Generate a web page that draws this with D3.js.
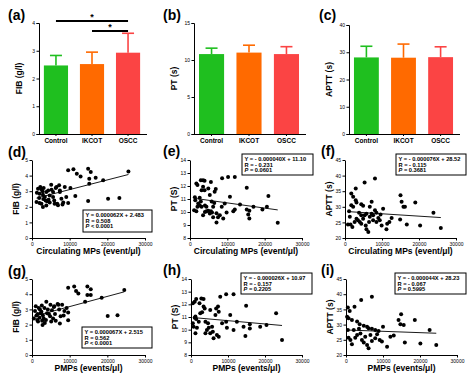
<!DOCTYPE html>
<html><head><meta charset="utf-8">
<script src="https://cdn.jsdelivr.net/npm/d3@7"></script>
<style>
html,body{margin:0;padding:0;background:#fff;}
svg{display:block;font-family:"Liberation Sans",Arial,sans-serif;}
</style></head>
<body><svg id="c" width="474" height="383"></svg>
<script>
// ---------- DATA ----------
const groups = ["Control", "IKCOT", "OSCC"];
const groupColors = ["#1fbf1f", "#ff6a00", "#fb4444"];
const fibMean = [2.47, 2.52, 2.93];
const fibErr = [0.36, 0.43, 0.70];
const ptMean = [10.8, 11.0, 10.8];
const ptErr = [0.8, 1.0, 1.0];
const apttMean = [28.1, 28.0, 28.2];
const apttErr = [4.1, 5.0, 3.8];

const fibTicks = [0, 1, 2, 3, 4];
const ptBarTicks = [0, 5, 10, 15];
const apttBarTicks = [0, 10, 20, 30, 40];
const xTicks = [0, 10000, 20000, 30000];
const fibScTicks = [0, 1, 2, 3, 4, 5];
const ptScTicks = [8, 9, 10, 11, 12, 13, 14];
const apttScTicks = [20, 25, 30, 35, 40, 45];

// Circulating MPs vs FIB
const mpFib = [[9600,4.34],[11000,4.4],[11900,4.12],[12900,3.95],[14900,4.44],[15600,4.23],[15200,3.8],[16900,3.87],[18900,3.7],[15200,3.48],[25600,4.27],[20200,2.52],[23200,2.56],[14900,2.37],[11500,2.69],[9600,2.24],
[1300,2.9],[1900,2.56],[2000,2.24],[2500,3.12],[2800,3.0],[2900,2.78],[3100,3.2],[3400,2.63],[3600,2.41],[2900,1.99],[3800,2.09],[4300,3.05],[4700,2.73],[5100,3.42],[5600,2.95],[5900,2.41],[6300,3.2],[6700,2.2],[7200,3.38],[7400,2.95],[7800,2.52],[8100,2.14],[8700,3.27],[9100,2.63],[10200,3.2],[6900,2.1],[4700,2.27],[2500,2.2],[1200,2.3],[1600,3.16],[2200,3.27],[3800,2.95],[5600,2.63],[6500,3.27],[7400,3.05],[4000,2.35],[6000,2.2],[8300,2.27],[2000,2.84],[3000,2.5],[5200,3.1],[4400,2.45]];
const mpFibFit = {slope: 0.000062, icpt: 2.483, eq: "Y = 0.000062X + 2.483", r: "R = 0.508", p: "< 0.0001"};

// Circulating MPs vs PT
const mpPt = [[1700,12.2],[2000,12.07],[2900,12.45],[3500,12.45],[3900,12.4],[5600,12.3],[8600,12.6],[10200,12.7],[12000,12.7],[15200,11.86],[21000,11.24],[23500,9.18],[15200,10.2],[15900,10.1],[15600,9.8],[15900,9.5],[17000,10.4],[19400,10.2],[20600,10.4],[10700,11.17],[11600,10.06],[12000,10.2],[13400,10.57],[9300,10.65],[8900,9.5],[8000,9.75],[7500,9.6],[7100,9.2],[7100,9.9],[6200,10.4],[6500,10.7],[6600,11.55],[6900,11.76],[5300,11.3],[5800,10.8],[4900,10.1],[4400,10.05],[4000,10.0],[3500,9.75],[3100,10.4],[2900,10.8],[2600,11.1],[2200,10.65],[2000,10.4],[1700,10.06],[1400,10.9],[1300,11.14],[1100,10.14],[3100,11.68],[3500,11.94],[3900,11.68],[4900,11.8],[4000,10.5],[5300,9.88],[5900,9.96],[4400,10.4],[2600,10.5],[8500,10.4],[9800,9.96],[5600,10.06],[6200,9.6]];
const mpPtFit = {slope: -0.000040, icpt: 11.10, eq: "Y = - 0.000040X + 11.10", r: "R = - 0.231", p: "= 0.0601"};

// Circulating MPs vs APTT
const mpAptt = [[1700,34.3],[2200,33.2],[2900,35.9],[5300,37.8],[8100,39.1],[1700,30.5],[2200,30.0],[2900,32.1],[3100,31.4],[4400,30.8],[4900,30.3],[6700,30.0],[7200,31.6],[8100,28.9],[8500,28.1],[10300,29.4],[1100,28.6],[1300,26.8],[1500,24.3],[800,24.3],[2000,23.5],[2600,25.1],[3100,26.2],[3500,25.7],[4000,25.1],[4400,24.6],[4900,26.2],[5300,27.3],[5600,24.0],[5800,22.8],[6300,21.9],[6500,25.1],[6700,26.8],[7200,27.8],[7600,25.7],[8500,25.1],[9000,26.4],[9600,27.5],[9900,24.0],[11200,22.8],[11400,24.6],[12000,25.1],[12600,26.4],[15000,33.7],[15300,31.6],[15800,30.0],[16200,30.0],[16700,24.3],[19000,31.4],[20300,24.0],[23900,28.1],[25900,23.2],[14900,25.9],[3800,28.1],[4400,27.3],[5800,27.8],[7600,27.3],[9400,25.7]];
const mpApttFit = {slope: -0.000076, icpt: 28.52, eq: "Y = - 0.000076X + 28.52", r: "R = - 0.115", p: "= 0.3681"};

// PMPs vs FIB
const pmpFib = [[9600,4.43],[11200,4.5],[11700,4.21],[12300,4.04],[14700,4.5],[15600,4.32],[14700,3.95],[15600,3.95],[18500,3.77],[14100,3.51],[24500,4.28],[20100,2.57],[22700,2.61],[9600,2.79],[9600,2.28],[7400,2.08],[2800,1.97],
[800,2.9],[1200,2.6],[1400,2.3],[1800,3.1],[2100,3.0],[2300,2.75],[2600,3.25],[2900,2.6],[3100,2.4],[3400,2.1],[3800,3.5],[4200,3.0],[4500,2.7],[4900,3.3],[5300,2.95],[5600,2.4],[5900,3.2],[6300,2.25],[6800,3.35],[7200,3.0],[7600,2.55],[8000,3.3],[8600,2.9],[9200,3.1],[500,2.4],[1000,3.2],[1600,2.2],[2000,2.45],[2500,2.85],[3300,3.1],[3700,2.3],[4800,2.55],[5100,2.2],[6100,2.7],[7000,3.3],[8400,2.6],[1500,2.7],[2700,2.25],[4000,2.75],[5800,3.15]];
const pmpFibFit = {slope: 0.000067, icpt: 2.515, eq: "Y = 0.000067X + 2.515", r: "R = 0.562", p: "< 0.0001"};

// PMPs vs PT
const pmpPt = [[500,12.08],[1000,12.2],[1400,12.42],[2800,12.47],[3400,12.42],[3700,11.68],[3400,11.82],[2300,12.08],[7900,12.6],[9500,12.79],[11500,12.79],[14900,11.89],[23000,11.29],[24600,9.18],[1200,11.03],[1400,10.84],[500,10.5],[700,10.24],[1200,9.71],[1600,10.16],[2100,10.63],[2500,11.29],[3000,11.37],[3900,10.63],[3900,9.71],[4300,9.97],[4800,10.16],[5200,9.71],[5700,10.24],[5900,9.84],[6100,9.32],[6600,11.16],[6800,11.68],[7300,11.82],[7500,11.42],[7000,9.58],[7500,9.45],[8400,10.5],[9500,10.63],[9700,10.16],[10600,11.16],[11500,9.97],[12400,10.63],[14200,10.24],[14700,9.5],[15900,10.42],[15900,10.1],[18700,10.24],[20400,10.37],[5200,11.55],[4600,10.5],[1000,10.95]];
const pmpPtFit = {slope: -0.000026, icpt: 10.97, eq: "Y = - 0.000026X + 10.97", r: "R = - 0.157", p: "= 0.2205"};

// PMPs vs APTT
const pmpAptt = [[500,35.6],[1000,34.5],[2300,35.9],[4100,38.1],[7000,39.2],[300,32.6],[700,32.1],[1600,31.5],[3000,31.0],[3700,30.1],[4800,29.6],[5700,29.3],[6100,28.8],[7000,28.6],[7900,28.2],[8800,27.9],[10000,29.3],[500,28.2],[700,25.7],[1200,24.9],[1600,23.5],[2500,25.7],[3000,26.6],[3900,27.1],[4300,24.9],[4800,24.1],[5200,26.0],[5700,23.3],[6100,22.2],[7000,24.6],[7900,25.5],[8400,26.8],[9100,24.9],[9700,24.4],[11100,22.7],[12000,26.0],[12900,26.4],[14200,31.5],[14900,33.4],[14700,30.1],[15600,29.9],[15900,24.1],[18600,31.5],[20100,23.8],[22600,28.2],[24400,23.3],[2100,28.2],[3500,28.6],[6600,26.6]];
const pmpApttFit = {slope: -0.000044, icpt: 28.23, eq: "Y = - 0.000044X + 28.23", r: "R = - 0.067", p: "= 0.5995"};

// ---------- DRAW ----------
const svg = d3.select("#c");
const FONT_TICK = 5;

function panelLabel(x, y, t) {
  svg.append("text").attr("x", x).attr("y", y).attr("font-size", 14).attr("font-weight", "bold").text(t);
}
function yLabel(x, yc, t) {
  svg.append("text").attr("transform", `translate(${x},${yc}) rotate(-90)`).attr("text-anchor", "middle")
    .attr("font-size", 8.5).attr("font-weight", "bold").text(t);
}
function styleAxis(g) {
  g.selectAll("path,line").attr("stroke", "#000").attr("stroke-width", 1);
  g.selectAll("text").attr("font-size", FONT_TICK).attr("font-family", "Liberation Sans, Arial, sans-serif").attr("fill", "#000");
}

function barPanel(o) {
  const y = d3.scaleLinear().domain([0, o.ticks[o.ticks.length - 1]]).range([o.bottom, o.top]);
  const x = d3.scaleBand().domain(groups).range([o.left + 2, o.right]).paddingInner(0.33).paddingOuter(0.08);
  const ya = svg.append("g").attr("transform", `translate(${o.left},0)`)
    .call(d3.axisLeft(y).tickValues(o.ticks).tickSize(2.5).tickPadding(1.5).tickFormat(d3.format("d")));
  styleAxis(ya);
  const xa = svg.append("g").attr("transform", `translate(0,${o.bottom})`)
    .call(d3.axisBottom(x).tickSize(2).tickPadding(2.5).tickSizeOuter(0));
  xa.select(".domain").attr("d", `M${o.left},0.5H${o.right + 4}`);
  styleAxis(xa);
  xa.selectAll("text").attr("font-size", 6.5).attr("font-weight", "bold");
  groups.forEach((gname, i) => {
    const c = groupColors[i];
    const xc = x(gname) + x.bandwidth() / 2;
    svg.append("line").attr("x1", xc).attr("x2", xc).attr("y1", y(o.mean[i])).attr("y2", y(o.mean[i] + o.err[i]))
      .attr("stroke", c).attr("stroke-width", 1.6);
    svg.append("line").attr("x1", xc - 6).attr("x2", xc + 6).attr("y1", y(o.mean[i] + o.err[i])).attr("y2", y(o.mean[i] + o.err[i]))
      .attr("stroke", c).attr("stroke-width", 1.6);
    svg.append("rect").attr("x", x(gname)).attr("width", x.bandwidth())
      .attr("y", y(o.mean[i])).attr("height", o.bottom - y(o.mean[i])).attr("fill", c);
  });
  yLabel(o.left - 17, (o.top + o.bottom) / 2, o.ylab);
  return {x, y};
}

function scatterPanel(o) {
  const x = d3.scaleLinear().domain([0, 30000]).range([o.left, o.right]);
  const y = d3.scaleLinear().domain([o.ticks[0], o.ticks[o.ticks.length - 1]]).range([o.bottom, o.top]);
  const ya = svg.append("g").attr("transform", `translate(${o.left},0)`)
    .call(d3.axisLeft(y).tickValues(o.ticks).tickSize(2.5).tickPadding(1.5).tickSizeOuter(0).tickFormat(d3.format("d")));
  styleAxis(ya);
  const xa = svg.append("g").attr("transform", `translate(0,${o.bottom})`)
    .call(d3.axisBottom(x).tickValues(xTicks).tickSize(2.5).tickPadding(1.5).tickSizeOuter(0).tickFormat(d3.format("d")));
  styleAxis(xa);
  svg.append("g").selectAll("circle").data(o.data).join("circle")
    .attr("cx", d => x(d[0])).attr("cy", d => y(d[1])).attr("r", 2).attr("fill", "#000");
  const xs = d3.extent(o.data, d => d[0]);
  svg.append("line").attr("x1", x(xs[0])).attr("x2", x(xs[1]))
    .attr("y1", y(o.fit.icpt + o.fit.slope * xs[0])).attr("y2", y(o.fit.icpt + o.fit.slope * xs[1]))
    .attr("stroke", "#000").attr("stroke-width", 0.9);
  const b = o.box;
  svg.append("rect").attr("x", b[0]).attr("y", b[1]).attr("width", b[2]).attr("height", b[3])
    .attr("fill", "#fff").attr("stroke", "#000").attr("stroke-width", 1);
  const t = svg.append("text").attr("x", b[0] + 2.5).attr("y", b[1] + 7).attr("font-size", 5.7).attr("font-weight", "bold");
  t.append("tspan").attr("x", b[0] + 2.5).text(o.fit.eq);
  t.append("tspan").attr("x", b[0] + 2.5).attr("dy", 5.6).text(o.fit.r);
  const tp = t.append("tspan").attr("x", b[0] + 2.5).attr("dy", 5.6);
  tp.append("tspan").attr("font-style", "italic").text("P");
  tp.append("tspan").text(" " + o.fit.p);
  yLabel(o.left - 13, (o.top + o.bottom) / 2, o.ylab);
  svg.append("text").attr("x", (o.left + o.right) / 2).attr("y", o.bottom + 15.5).attr("text-anchor", "middle")
    .attr("font-size", 8.5).attr("font-weight", "bold").text(o.xlab);
}

// Row 1: bar charts
const pa = barPanel({left: 39, right: 143, top: 23, bottom: 134, ticks: fibTicks, mean: fibMean, err: fibErr, ylab: "FIB (g/l)"});
barPanel({left: 194, right: 302, top: 23, bottom: 134, ticks: ptBarTicks, mean: ptMean, err: ptErr, ylab: "PT (s)"});
barPanel({left: 349, right: 456, top: 25, bottom: 134, ticks: apttBarTicks, mean: apttMean, err: apttErr, ylab: "APTT (s)"});
panelLabel(8, 20, "(a)");
panelLabel(163, 20, "(b)");
panelLabel(319, 20, "(c)");

const cx = g => pa.x(g) + pa.x.bandwidth() / 2;
svg.append("line").attr("x1", cx("Control")).attr("x2", cx("OSCC")).attr("y1", 21).attr("y2", 21).attr("stroke", "#000").attr("stroke-width", 1.8);
svg.append("text").attr("x", (cx("Control") + cx("OSCC")) / 2).attr("y", 19.5).attr("text-anchor", "middle").attr("font-size", 9).attr("font-weight", "bold").text("*");
svg.append("line").attr("x1", cx("IKCOT")).attr("x2", cx("OSCC")).attr("y1", 31).attr("y2", 31).attr("stroke", "#000").attr("stroke-width", 1.8);
svg.append("text").attr("x", (cx("IKCOT") + cx("OSCC")) / 2).attr("y", 29.5).attr("text-anchor", "middle").attr("font-size", 9).attr("font-weight", "bold").text("*");

// Row 2
const xlabMP = "Circulating MPs (event/\u03bcl)";
const xlabPMP = "PMPs (events/\u03bcl)";
scatterPanel({left: 32, right: 145, top: 160, bottom: 238, ticks: fibScTicks, data: mpFib, fit: mpFibFit, ylab: "FIB (g/l)", xlab: xlabMP, box: [83, 210, 69, 22]});
scatterPanel({left: 190, right: 302, top: 160, bottom: 238, ticks: ptScTicks, data: mpPt, fit: mpPtFit, ylab: "PT (S)", xlab: xlabMP, box: [242, 154, 71, 21]});
scatterPanel({left: 345, right: 456, top: 160, bottom: 238, ticks: apttScTicks, data: mpAptt, fit: mpApttFit, ylab: "APTT (s)", xlab: xlabMP, box: [396, 154, 70, 21]});
panelLabel(8, 157, "(d)");
panelLabel(163, 156, "(e)");
panelLabel(321, 156, "(f)");

// Row 3
scatterPanel({left: 32, right: 145, top: 279, bottom: 355, ticks: fibScTicks, data: pmpFib, fit: pmpFibFit, ylab: "FIB (g/l)", xlab: xlabPMP, box: [82, 327, 70, 21]});
scatterPanel({left: 191, right: 302, top: 279, bottom: 355, ticks: ptScTicks, data: pmpPt, fit: pmpPtFit, ylab: "PT (S)", xlab: xlabPMP, box: [241, 273, 71, 21]});
scatterPanel({left: 346, right: 457, top: 279, bottom: 355, ticks: apttScTicks, data: pmpAptt, fit: pmpApttFit, ylab: "APTT (s)", xlab: xlabPMP, box: [395, 273, 71, 21]});
panelLabel(8, 276, "(g)");
panelLabel(163, 275, "(h)");
panelLabel(321, 275, "(i)");
</script></body></html>
